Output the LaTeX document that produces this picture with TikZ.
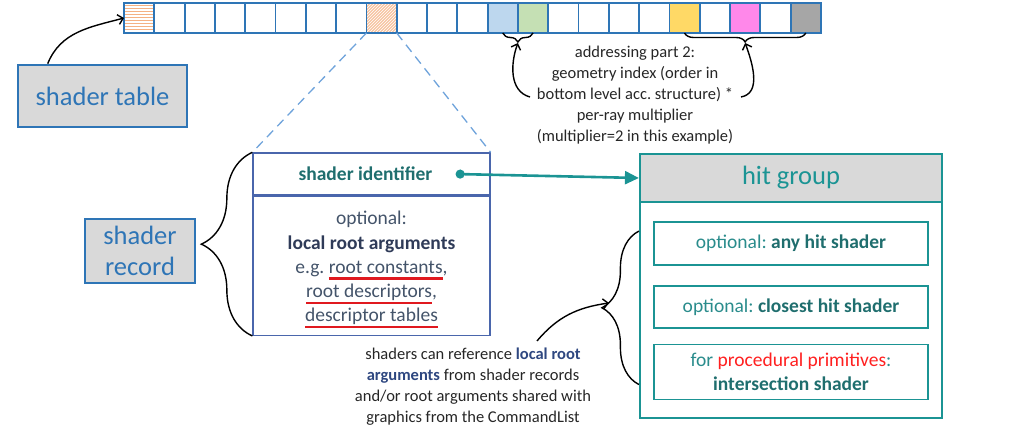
\documentclass[tikz,border=0pt]{standalone}
\usepackage{fontspec}
\setmainfont{Carlito}
\usetikzlibrary{positioning,patterns,decorations.pathreplacing,arrows.meta}
\frenchspacing

\definecolor{tblue}{HTML}{2E75B6}
\definecolor{recblue}{HTML}{4A66AC}
\definecolor{dashblue}{HTML}{6FA3DB}
\definecolor{hgteal}{HTML}{1B9494}
\definecolor{tealtext}{HTML}{2A8C8C}
\definecolor{tealbold}{HTML}{1F6E6E}
\definecolor{boxgray}{HTML}{D9D9D9}
\definecolor{hatch}{HTML}{F4B183}
\definecolor{cellblue}{HTML}{BDD7EE}
\definecolor{cellgreen}{HTML}{C5E0B4}
\definecolor{cellyellow}{HTML}{FFD966}
\definecolor{cellpink}{HTML}{FF88EA}
\definecolor{cellgray}{HTML}{A6A6A6}
\definecolor{slate}{HTML}{44546A}
\definecolor{navy}{HTML}{2F3B58}
\definecolor{notenavy}{HTML}{2E4780}
\definecolor{ulred}{HTML}{E0191F}
\definecolor{primred}{HTML}{FF2020}
\definecolor{ink}{HTML}{262626}

\newcommand{\redul}[1]{\setbox0\hbox{#1}\rlap{\color{ulred}\rule[-6.5pt]{\wd0}{2.6pt}}\box0}

\begin{document}
\begin{tikzpicture}[x=1pt,y=1pt,
	cell/.style={draw=tblue, line width=1.8pt, minimum width=30.3pt, minimum height=30pt, inner sep=0pt, outer sep=0pt},
	labelbox/.style={draw=tblue, fill=boxgray, line width=2.6pt, text=tblue, inner sep=0pt, align=center, font=\fontsize{26.5}{31}\selectfont},
	recbox/.style={draw=recblue, line width=1.3pt, minimum width=237pt, inner sep=0pt, align=center, font=\fontsize{19.5}{24.3}\selectfont},
	hitbox/.style={draw=hgteal, line width=2.2pt, minimum width=302pt, inner sep=0pt},
	shaderbox/.style={draw=hgteal, line width=1.8pt, minimum width=274pt, inner sep=0pt, align=center, text=tealtext, font=\fontsize{19.5}{24.3}\selectfont},
	note/.style={text=ink, align=center, inner sep=0pt, font=\fontsize{16.5}{21}\selectfont},
	brace/.style={decorate, line width=1.4pt},
	arrow/.style={-{Straight Barb[length=5pt,width=10pt]}, line width=1.4pt}
]
\useasboundingbox (0,0) rectangle (1015,444);

% shader table strip
\foreach \i in {0,...,22}
	\node[cell] (c\i) at ({139.15+30.3*\i},426) {};
\foreach \i/\col in {12/cellblue,13/cellgreen,18/cellyellow,20/cellpink,22/cellgray}
	\node[cell, fill=\col] (f\i) at (c\i) {};
\node[cell, pattern=horizontal lines, pattern color=hatch] (f0) at (c0) {};
\node[cell, fill=hatch!75, postaction={pattern=north east lines, pattern color=white}] (f8) at (c8) {};
\node[cell] (b8) at (c8) {};

\node[labelbox, minimum width=169pt, minimum height=62pt] (table) at (102.5,348) {shader table};
\draw[arrow] ([xshift=31pt]table.north west) to[out=68,in=195] (c0.west);

% addressing
\draw[brace, decoration={brace, amplitude=9pt}] (c13.south) -- (c12.south);
\draw[brace, decoration={brace, amplitude=9pt}] (c22.south) -- (c18.south);
\node[note] (addr) at (635,349) {addressing part 2:\\geometry index (order in\\bottom level acc. structure) *\\per-ray multiplier\\(multiplier=2 in this example)};
\coordinate (addrL) at (530,347);
\coordinate (addrR) at (741,347);
\draw[arrow] (addrL) to[out=165,in=-110] ([yshift=-10pt]c12.south east);
\draw[arrow] (addrR) to[out=10,in=-70] ([yshift=-10pt]c20.south);

% shader record
\node[recbox, minimum height=42pt, text=tealbold] (ident) at (371.5,270) {\textbf{shader identifier}\hspace*{12pt}};
\node[recbox, minimum height=139pt, anchor=north, text=slate] (args) at (ident.south) {};
\node[recbox, draw=none, minimum width=0pt, text=slate] (argtext) at ([yshift=-4pt]args.center) {optional:\\\textcolor{navy}{\textbf{local root arguments}}\\e.g. \redul{root constants},\\\redul{root descriptors},\\\redul{descriptor tables}};
\draw[dashblue, line width=1.3pt, dash pattern=on 9pt off 6pt] (c8.south west) -- (ident.north west);
\draw[dashblue, line width=1.3pt, dash pattern=on 9pt off 6pt] (c8.south east) -- (ident.north east);
\draw[brace, decoration={brace, amplitude=51pt}] (args.south west) -- (ident.north west);
\node[labelbox, minimum width=110pt, minimum height=64pt] (record) at (140,193) {shader\\record};

% hit group
\node[hitbox, minimum height=264pt] (hg) at (791,158) {};
\node[hitbox, fill=boxgray, minimum height=48pt, anchor=north, text=hgteal, font=\fontsize{26.5}{31}\selectfont] (head) at (hg.north) {hit group};
\node[shaderbox, minimum height=43pt, below=18pt of head] (anyhit) {optional: \textcolor{tealbold}{\textbf{any hit shader}}};
\node[shaderbox, minimum height=42pt, below=19pt of anyhit] (closest) {optional: \textcolor{tealbold}{\textbf{closest hit shader}}};
\node[shaderbox, minimum height=55pt, below=15pt of closest] (isect) {for \textcolor{primred}{procedural primitives}:\\\textcolor{tealbold}{\textbf{intersection shader}}};
\draw[hgteal, line width=2.6pt, {Circle[length=9pt]}-{Triangle[length=14pt,width=13pt]}] ([xshift=-35pt]ident.east) -- (head.west);

\path (hg.west |- anyhit.north) ++(0,-10) coordinate (hbTop);
\path (hg.west |- isect.south) ++(0,16) coordinate (hbBot);
\draw[brace, decoration={brace, amplitude=37pt}] (hbBot) -- (hbTop);

% note
\node[note] (remark) at (473,57) {shaders can reference \textcolor{notenavy}{\textbf{local root}}\\\textcolor{notenavy}{\textbf{arguments}} from shader records\\and/or root arguments shared with\\graphics from the CommandList};
\coordinate (remarkTop) at (537,103);
\draw[arrow] (remarkTop) to[out=50,in=188] (609,141);
\end{tikzpicture}
\end{document}
